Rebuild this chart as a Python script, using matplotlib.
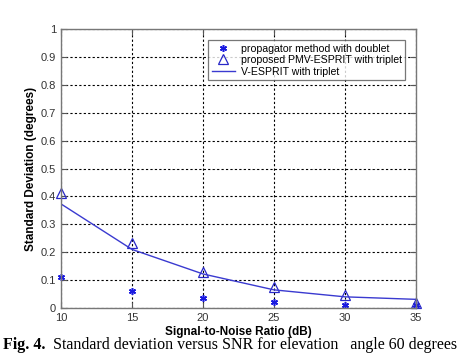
import numpy as np
import matplotlib.pyplot as plt

snr = [10, 15, 20, 25, 30, 35]
propagator = [0.112, 0.062, 0.037, 0.02, 0.01, 0.01]
pmv_esprit = [0.411, 0.232, 0.13, 0.074, 0.046, 0.017]
v_esprit = [0.373, 0.21, 0.122, 0.065, 0.04, 0.031]

labels = ['propagator method with doublet',
          'proposed PMV-ESPRIT with triplet',
          'V-ESPRIT with triplet']
xticks = [10, 15, 20, 25, 30, 35]
yticks = np.arange(0, 1.01, 0.1)

plt.rcParams['font.family'] = ['Liberation Sans', 'DejaVu Sans']

fig = plt.figure(figsize=(4.74, 3.55), dpi=100)
ax = fig.add_axes([0.1287, 0.1324, 0.7489, 0.7859])

ax.plot(snr, propagator, linestyle='none', marker=(6, 2, 0), markersize=5,
        mew=1.1, color='#1a1ae0', label=labels[0], clip_on=False)
ax.plot(snr, pmv_esprit, linestyle='none', marker='^', markersize=7,
        mfc='none', mew=0.9, color='#2828c8', label=labels[1], clip_on=False)
ax.plot(snr, v_esprit, '-', lw=1.0, color='#3a3ad0', label=labels[2])

ax.set_xlim(10, 35)
ax.set_ylim(0, 1)
ax.set_xticks(xticks)
ax.set_yticks(yticks)
ax.set_yticklabels(['0' if v == 0 else ('1' if v == 1 else f'{v:.1f}')
                    for v in yticks])
ax.grid(True, color='black', linestyle=(0, (2, 2)), linewidth=0.8)
ax.tick_params(direction='in', top=True, right=True, labelsize=8,
               labelcolor='#333333', color='#555555', length=4)
for s in ax.spines.values():
    s.set_color('#777777')
    s.set_linewidth(1.0)

ax.set_xlabel('Signal-to-Noise Ratio (dB)', fontsize=8.5, fontweight='bold',
              labelpad=2)
ax.set_ylabel('Standard Deviation (degrees)', fontsize=8.5,
              fontweight='bold', labelpad=3)

leg = ax.legend(loc='upper right', fontsize=7.6, frameon=True, fancybox=False,
                edgecolor='#555555', borderpad=0.3, labelspacing=0.15,
                handlelength=2.2, handletextpad=0.6,
                bbox_to_anchor=(0.985, 0.978))
leg.get_frame().set_linewidth(0.9)

fig.text(0.006, 0.018, 'Fig. 4.', fontsize=11.5, fontweight='bold',
         family=['Liberation Serif'], va='baseline', ha='left')
fig.text(0.112, 0.018, 'Standard deviation versus SNR for elevation   angle 60 degrees',
         fontsize=11.5, family=['Liberation Serif'], va='baseline', ha='left')

fig.savefig('out.png', dpi=100)
